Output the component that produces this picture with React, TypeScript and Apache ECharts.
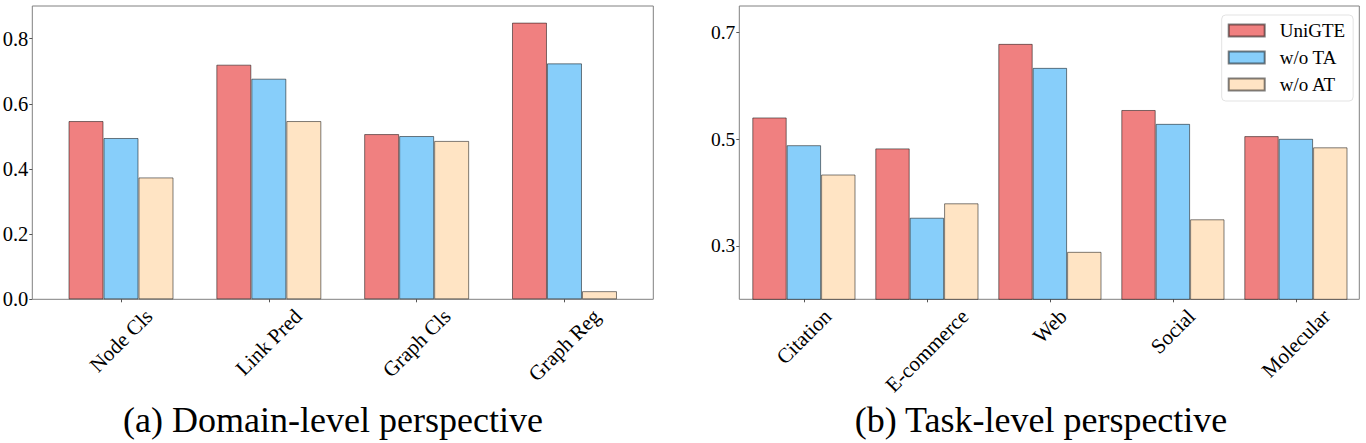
import React, { useEffect, useRef } from "react";
import * as echarts from "echarts";

// ---------- data ----------
const domainCategories = ["Node Cls", "Link Pred", "Graph Cls", "Graph Reg"];
const domainUniGTE = [0.547, 0.72, 0.507, 0.849];
const domainWoTA = [0.495, 0.677, 0.501, 0.724];
const domainWoAT = [0.374, 0.547, 0.486, 0.025];
const domainTicks = [0, 0.2, 0.4, 0.6, 0.8];

const taskCategories = ["Citation", "E-commerce", "Web", "Social", "Molecular"];
const taskUniGTE = [0.541, 0.483, 0.679, 0.555, 0.506];
const taskWoTA = [0.489, 0.353, 0.634, 0.529, 0.501];
const taskWoAT = [0.434, 0.38, 0.289, 0.35, 0.485];
const taskTicks = [0.3, 0.5, 0.7];

const seriesNames = ["UniGTE", "w/o TA", "w/o AT"];
const captions = ["(a) Domain-level perspective", "(b) Task-level perspective"];

// ---------- styles ----------
const FONT = "'Liberation Serif', 'Times New Roman', serif";
const COLORS = ["#F08080", "#87CEFA", "#FFE4C4"];
const EDGE = "rgba(0,0,0,0.5)";
const FRAME = "#808080";
const TICK = "#555";
const XLABEL_SIZE = 21;
const XLABEL_MARGIN = 8;

function measure(text: string, fontSize: number): number {
  const c = document.createElement("canvas");
  const ctx = c.getContext("2d");
  if (!ctx) return text.length * fontSize * 0.45;
  ctx.font = `${fontSize}px "Liberation Serif"`;
  return ctx.measureText(text).width;
}

// rotated labels centred under their tick (matplotlib ha="center" style):
// the text is shifted along / across its own direction through padding
function rotatedLabels(cats: string[], fs: number, margin: number) {
  const hb = fs * 1.15;
  const gap = 5;
  return cats.map((c) => {
    const L = measure(c, fs);
    const C = gap + (L + hb) / (2 * Math.SQRT2);
    const D = Math.max(0, C - margin);
    const along = Math.SQRT2 * D; // right padding -> moves back along text by along/2
    const across = Math.max(0, D / Math.SQRT2 - fs / 2); // top padding, verticalAlign top
    return {
      value: c,
      textStyle: {
        align: "center",
        verticalAlign: "top",
        lineHeight: fs,
        padding: [across, along, 0, 0],
      },
    };
  });
}

function buildOption() {
  const hiddenAxis = (gi: number) => ({
    gridIndex: gi,
    type: "value",
    show: false,
    min: 0,
    max: 1,
  });
  const catAxis = (gi: number, cats: string[]) => ({
    gridIndex: gi,
    type: "category",
    data: rotatedLabels(cats, XLABEL_SIZE, XLABEL_MARGIN),
    axisLine: { show: false },
    axisTick: {
      show: true,
      alignWithLabel: true,
      length: 3,
      lineStyle: { color: TICK },
    },
    axisLabel: {
      interval: 0,
      rotate: 45,
      margin: XLABEL_MARGIN,
      fontSize: XLABEL_SIZE,
      fontFamily: FONT,
      color: "#000",
    },
    splitLine: { show: false },
  });
  const valAxis = (
    gi: number,
    min: number,
    max: number,
    ticks: number[],
    offset: number,
    fs: number
  ) => ({
    gridIndex: gi,
    type: "value",
    min,
    max,
    offset,
    axisLine: { show: false },
    axisTick: {
      show: true,
      length: 3,
      lineStyle: { color: TICK },
      customValues: ticks,
    },
    axisLabel: {
      customValues: ticks,
      formatter: (v: number) => v.toFixed(1),
      fontSize: fs,
      fontFamily: FONT,
      color: "#000",
      margin: 4,
    },
    splitLine: { show: false },
  });

  const groups = [
    { vals: [domainUniGTE, domainWoTA, domainWoAT], axis: 1, width: 35 },
    { vals: [taskUniGTE, taskWoTA, taskWoAT], axis: 3, width: 34.4 },
  ];
  const series: any[] = [];
  groups.forEach((g) => {
    g.vals.forEach((vals, i) => {
      series.push({
        name: seriesNames[i],
        type: "bar",
        xAxisIndex: g.axis,
        yAxisIndex: g.axis,
        data: vals,
        barWidth: g.width,
        barGap: "0%",
        itemStyle: { color: COLORS[i], borderColor: EDGE, borderWidth: 1 },
      });
    });
  });

  const frameGrid = (left: number, width: number) => ({
    left,
    width,
    top: 6,
    height: 293.3,
    show: true,
    borderColor: FRAME,
    borderWidth: 1,
    backgroundColor: "transparent",
    containLabel: false,
    outerBoundsMode: "none",
  });
  const barGrid = (left: number, width: number) => ({
    left,
    width,
    top: 6,
    height: 293.3,
    containLabel: false,
    outerBoundsMode: "none",
  });

  const caption = (text: string, x: number) => ({
    type: "text",
    x,
    y: 420,
    style: {
      text,
      fontSize: 36,
      fontFamily: FONT,
      fill: "#000",
      align: "center",
      verticalAlign: "middle",
    },
  });

  return {
    animation: false,
    textStyle: { fontFamily: FONT },
    grid: [
      frameGrid(32.3, 621),
      barGrid(47.1, 591.3),
      frameGrid(739.3, 620),
      barGrid(742.4, 615),
    ],
    xAxis: [
      hiddenAxis(0),
      catAxis(1, domainCategories),
      hiddenAxis(2),
      catAxis(3, taskCategories),
    ],
    yAxis: [
      hiddenAxis(0),
      valAxis(1, 0, 0.9, domainTicks, 14.8, 20.5),
      hiddenAxis(2),
      valAxis(3, 0.2, 0.75, taskTicks, 3.1, 19.5),
    ],
    legend: {
      data: seriesNames,
      orient: "vertical",
      left: 1221.7,
      top: 15,
      padding: [6, 8, 7, 6],
      itemWidth: 36,
      itemHeight: 12,
      itemGap: 8,
      icon: "rect",
      backgroundColor: "#fff",
      borderColor: "#e3e3e3",
      borderWidth: 1,
      borderRadius: 4,
      textStyle: {
        fontSize: 19,
        lineHeight: 19,
        fontFamily: FONT,
        color: "#000",
        padding: [0, 0, 0, 10],
      },
    },
    graphic: [caption(captions[0], 333), caption(captions[1], 1041)],
    series,
  };
}

export default function App() {
  const ref = useRef<HTMLDivElement>(null);
  useEffect(() => {
    if (!ref.current) return;
    const chart = echarts.init(ref.current, undefined, { renderer: "svg" });
    chart.setOption(buildOption() as any);
    return () => chart.dispose();
  }, []);
  return (
    <div
      ref={ref}
      style={{
        position: "fixed",
        left: 0,
        top: 0,
        width: 1366,
        height: 443,
        background: "#fff",
      }}
    />
  );
}
